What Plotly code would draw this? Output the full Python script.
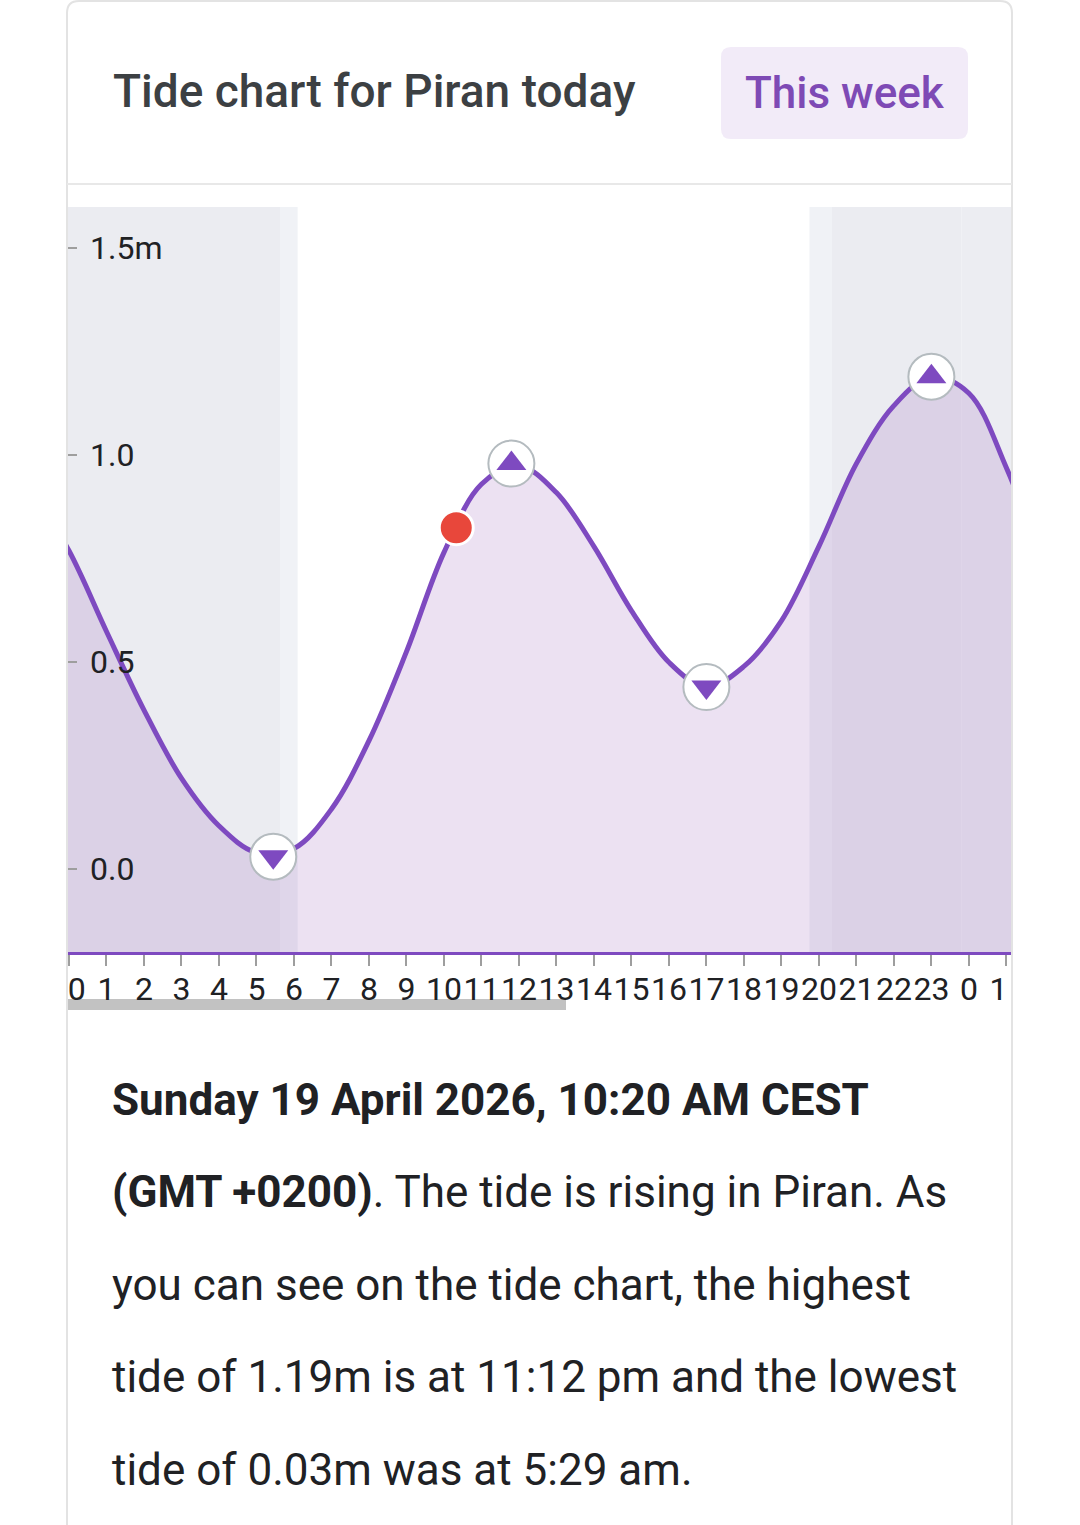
import plotly.graph_objects as go

# tide heights (m), one per hour (-1 .. 26)
hours = list(range(-1, 27))
heights = [0.92, 0.77, 0.575, 0.385, 0.22, 0.105, 0.04, 0.05, 0.145, 0.31, 0.525,
           0.765, 0.93, 0.975, 0.91, 0.78, 0.625, 0.50, 0.44, 0.49, 0.60, 0.78,
           0.98, 1.12, 1.19, 1.15, 0.97, 0.73]

# high / low water marks
low_times = [5.45, 17.0]
low_heights = [0.03, 0.44]
high_times = [11.8, 23.0]
high_heights = [0.98, 1.19]

# now marker
now_time = 10.33
now_height = 0.825

tick_hours = list(range(26))
tick_labels = [str(h % 24) for h in tick_hours]
y_ticks = [0.0, 0.5, 1.0, 1.5]
y_labels = ['0.0', '0.5', '1.0', '1.5m']

night_bands = [(-0.05, 5.63), (20.35, 23.8)]
twilight_bands = [(5.63, 6.1), (19.75, 20.35)]
late_band = [(23.8, 25.15)]

x_range = [-0.05, 25.15]
y_range = [-0.2, 1.6]

hi_val, hi_time = 1.19, '11:12 pm'
lo_val, lo_time = 0.03, '5:29 am'

W, H = 1080, 1525
PURPLE = '#7E4AC0'


def px(x):
    return x / W


def py(y):
    return 1 - y / H


fig = go.Figure()

# baseline for the area fill
fig.add_trace(go.Scatter(x=hours, y=[y_range[0]] * len(hours), mode='lines',
                         line=dict(width=0), hoverinfo='skip', showlegend=False))
fig.add_trace(go.Scatter(x=hours, y=heights, mode='lines',
                         line=dict(color=PURPLE, width=5, shape='spline', smoothing=1),
                         fill='tonexty', fillcolor='rgba(140,80,180,0.17)',
                         hoverinfo='skip', showlegend=False))

ext_x = low_times + high_times
ext_y = low_heights + high_heights
fig.add_trace(go.Scatter(x=ext_x, y=ext_y, mode='markers',
                         marker=dict(size=46, color='white', line=dict(color='#B4BBBF', width=2)),
                         hoverinfo='skip', showlegend=False))
fig.add_trace(go.Scatter(x=low_times, y=low_heights, mode='markers',
                         marker=dict(symbol='triangle-down', size=26, color=PURPLE),
                         hoverinfo='skip', showlegend=False))
fig.add_trace(go.Scatter(x=high_times, y=high_heights, mode='markers',
                         marker=dict(symbol='triangle-up', size=26, color=PURPLE),
                         hoverinfo='skip', showlegend=False))
fig.add_trace(go.Scatter(x=[now_time], y=[now_height], mode='markers',
                         marker=dict(size=34, color='#E8473B', line=dict(color='white', width=3)),
                         hoverinfo='skip', showlegend=False))

shapes = []
for a, b in night_bands:
    shapes.append(dict(type='rect', xref='x', yref='y domain', x0=a, x1=b, y0=0, y1=1,
                       fillcolor='#EBECF1', line_width=0, layer='below'))
for a, b in twilight_bands:
    shapes.append(dict(type='rect', xref='x', yref='y domain', x0=a, x1=b, y0=0, y1=1,
                       fillcolor='#F0F2F6', line_width=0, layer='below'))
for a, b in late_band:
    shapes.append(dict(type='rect', xref='x', yref='y domain', x0=a, x1=b, y0=0, y1=1,
                       fillcolor='#ECEDF2', line_width=0, layer='below'))

# card outline
r = 12
card = (f'M {px(67)} {py(1530)} L {px(67)} {py(r + 1)} Q {px(67)} {py(1)} {px(67 + r)} {py(1)} '
        f'L {px(1012 - r)} {py(1)} Q {px(1012)} {py(1)} {px(1012)} {py(r + 1)} L {px(1012)} {py(1530)}')
shapes.append(dict(type='path', xref='paper', yref='paper', path=card,
                   line=dict(color='#E3E3E3', width=2)))
# separator under header
shapes.append(dict(type='line', xref='paper', yref='paper', x0=px(67), x1=px(1012),
                   y0=py(184), y1=py(184), line=dict(color='#E8E8E8', width=2)))
# button background
bx0, bx1, by0, by1, br = 721, 968, 47, 139, 10
btn = (f'M {px(bx0 + br)} {py(by0)} L {px(bx1 - br)} {py(by0)} Q {px(bx1)} {py(by0)} {px(bx1)} {py(by0 + br)} '
       f'L {px(bx1)} {py(by1 - br)} Q {px(bx1)} {py(by1)} {px(bx1 - br)} {py(by1)} '
       f'L {px(bx0 + br)} {py(by1)} Q {px(bx0)} {py(by1)} {px(bx0)} {py(by1 - br)} '
       f'L {px(bx0)} {py(by0 + br)} Q {px(bx0)} {py(by0)} {px(bx0 + br)} {py(by0)} Z')
shapes.append(dict(type='path', xref='paper', yref='paper', path=btn,
                   fillcolor='#F2EBF8', line_width=0))
# scroll bar
shapes.append(dict(type='rect', xref='paper', yref='paper', x0=px(67), x1=px(566),
                   y0=py(1010), y1=py(999), fillcolor='#C2C2C2', line_width=0, layer='below'))

lines = [
    '<b>Sunday 19 April 2026, 10:20 AM CEST</b>',
    '<b>(GMT +0200)</b>. The tide is rising in Piran. As',
    'you can see on the tide chart, the highest',
    f'tide of {hi_val:.2f}m is at {hi_time} and the lowest',
    f'tide of {lo_val:.2f}m was at {lo_time}.',
]
line_y = [1100, 1192, 1285, 1377, 1470]

annotations = [
    dict(text='Tide chart for Piran today', x=px(111), y=py(91), xref='paper', yref='paper',
         xanchor='left', yanchor='middle', showarrow=False,
         font=dict(family='Roboto', size=46, color='#3C4043', weight=500)),
    dict(text='This week', x=px(845), y=py(93), xref='paper', yref='paper',
         xanchor='center', yanchor='middle', showarrow=False,
         font=dict(family='Roboto', size=44, color='#7E4AB5', weight=500)),
]
for t, yy in zip(lines, line_y):
    annotations.append(dict(text=t, x=px(110), y=py(yy), xref='paper', yref='paper',
                            xanchor='left', yanchor='middle', showarrow=False,
                            font=dict(family='Roboto', size=44, color='#202124')))
# y tick labels sit inside the plot, right of the short ticks
for v, lab in zip(y_ticks, y_labels):
    annotations.append(dict(text=lab, x=px(88), y=v, xref='paper', yref='y',
                            xanchor='left', yanchor='middle', showarrow=False,
                            font=dict(family='Roboto', size=32, color='#202124')))

# first/last hour labels are nudged inward like the original
x_ticktext = list(tick_labels)
x_ticktext[0] = '\u00a0\u00a0' + x_ticktext[0]
x_ticktext[-1] = x_ticktext[-1] + '\u00a0\u00a0'

fig.update_layout(
    width=W, height=H, autosize=False,
    margin=dict(l=0, r=0, t=0, b=0, pad=0),
    paper_bgcolor='white', plot_bgcolor='white',
    shapes=shapes, annotations=annotations,
    showlegend=False, hovermode=False,
    xaxis=dict(domain=[px(67), px(1012)], range=x_range, tickvals=tick_hours, ticktext=x_ticktext,
               ticks='outside', ticklen=11, tickwidth=2, tickcolor='#9E9E9E', tickangle=0,
               ticklabelstandoff=-4, automargin=False, showgrid=False, zeroline=False,
               showline=True, linecolor=PURPLE, linewidth=3,
               tickfont=dict(family='Roboto', size=32, color='#202124'), fixedrange=True),
    yaxis=dict(domain=[py(952), py(207)], range=y_range, tickvals=y_ticks, showticklabels=False,
               ticks='inside', ticklen=10, tickwidth=2, tickcolor='#9E9E9E',
               automargin=False, showgrid=False, zeroline=False, showline=False, fixedrange=True),
)

fig.write_html('out.html', config={'displayModeBar': False},
               post_script="document.body.style.margin='0';")
